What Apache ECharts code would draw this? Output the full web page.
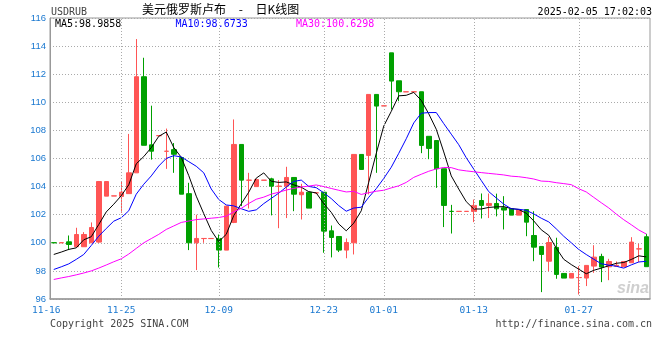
<!DOCTYPE html>
<html>
<head>
<meta charset="utf-8">
<script src="https://cdn.jsdelivr.net/npm/echarts@6/dist/echarts.min.js"></script>
<style>html,body{margin:0;padding:0;background:#fff;}#c{width:660px;height:360px;}</style>
</head>
<body>
<div id="c"></div>
<script>
const dates = ['11-16','11-17','11-18','11-19','11-20','11-21','11-22','11-23','11-24','11-25',
  '11-26','11-27','11-28','11-29','11-30','12-02','12-03','12-04','12-05','12-06','12-07','12-08','12-09',
  '12-10','12-11','12-12','12-13','12-14','12-15','12-16','12-17','12-18','12-19','12-20','12-21','12-22','12-23',
  '12-24','12-25','12-26','12-27','12-28','12-30','12-31','01-01',
  '01-02','01-03','01-04','01-05','01-06','01-07','01-08','01-09','01-10','01-11','01-12','01-13',
  '01-14','01-15','01-16','01-17','01-18','01-19','01-20','01-21','01-22','01-23','01-24','01-25','01-26','01-27',
  '01-28','01-29','01-30','01-31','02-01','02-02','02-03','02-04','02-05'];
const opens = [100.01,100.00,100.07,99.72,99.72,100.00,100.05,103.32,103.33,103.30,
  103.50,104.98,111.82,106.97,107.62,106.51,106.63,106.07,103.50,100.00,
  100.30,100.30,100.31,99.48,101.45,107.00,104.45,104.00,104.45,104.55,
  104.02,104.03,104.65,103.42,103.60,103.55,103.60,100.85,100.45,99.48,
  100.00,106.29,106.22,110.56,109.74,113.52,111.53,110.74,110.74,110.75,
  107.58,107.28,105.27,102.24,102.23,102.23,102.23,103.01,102.66,102.80,
  102.49,102.42,101.97,102.37,100.52,99.74,98.69,99.67,97.82,97.49,
  97.52,97.49,98.34,99.03,98.29,98.33,98.29,98.58,99.56,100.43];
const closes = [100.00,100.01,99.88,100.59,100.59,101.09,104.36,104.36,103.34,103.60,
  104.98,111.82,106.94,106.52,107.63,106.52,106.30,103.46,100.00,100.31,
  100.31,100.31,99.48,102.61,107.00,104.46,104.46,104.50,104.46,104.03,
  104.03,104.65,103.46,103.60,102.47,103.56,100.83,100.38,99.48,100.02,
  106.29,105.22,110.56,109.73,109.75,111.51,110.75,110.75,110.75,106.93,
  106.72,105.27,102.66,102.23,102.24,102.24,102.66,102.66,102.80,102.42,
  102.33,101.97,102.33,101.47,99.69,99.17,100.02,97.75,97.49,97.82,
  97.53,98.39,98.98,98.27,98.67,98.40,98.67,100.05,99.57,98.30];
const lows = [100.00,100.00,99.48,99.72,99.72,100.00,100.00,103.32,103.33,102.13,
  103.50,104.98,106.94,105.92,107.62,105.26,104.98,103.46,99.48,98.06,
  100.00,100.30,98.24,99.48,101.40,102.61,102.44,104.00,104.45,101.95,
  101.04,101.76,102.25,101.66,102.47,103.55,99.29,98.96,99.34,98.90,
  99.17,105.22,103.44,104.98,109.74,109.49,110.08,110.74,110.74,106.38,
  105.95,103.91,101.12,100.66,102.23,102.23,101.47,101.73,101.76,101.88,
  100.95,101.97,101.97,100.47,98.69,96.49,97.98,97.44,97.49,97.49,
  96.32,96.92,97.86,97.20,97.34,98.33,98.29,98.58,98.62,98.30];
const highs = [100.01,100.01,100.52,101.07,100.76,101.45,104.40,104.36,103.34,104.38,
  107.75,114.50,113.17,109.76,107.63,108.13,107.10,106.10,104.27,102.00,
  100.31,100.31,100.59,102.61,108.78,107.00,104.98,104.50,104.46,104.63,
  104.46,105.41,104.65,104.20,103.60,103.56,103.60,101.23,100.45,100.31,
  106.29,106.29,110.56,110.56,109.75,113.52,111.53,110.75,110.75,110.75,
  107.58,107.28,105.27,102.70,102.24,102.24,103.08,103.51,103.51,103.50,
  103.32,102.42,102.33,102.37,102.25,99.74,100.40,100.36,97.82,97.82,
  98.34,98.39,99.83,99.22,98.86,98.67,98.67,100.40,99.93,100.64];
// moving-average values before a full window is available
const ma5Head = [99.17,99.34,99.53,99.64];
const ma10Head = [98.10,98.29,98.50,98.82,99.17,99.81,100.47,101.02,101.54];
const ma30Head = [97.39,97.50,97.60,97.72,97.85,98.00,98.20,98.42,98.65,98.86,
  99.20,99.60,100.00,100.30,100.60,100.95,101.20,101.45,101.55,101.65,
  101.70,101.75,101.80,101.90,102.20,102.45,102.80,103.10,103.25];
const tickLabels = ['11-16','11-25','12-09','12-23','01-01','01-13','01-27'];
const legendTexts = ['MA5:98.9858','MA10:98.6733','MA30:100.6298'];
const yMin = 96, yMax = 116, yStep = 2;

function movingAvg(n, head) {
  return closes.map((c, i) => {
    if (i < n - 1) return head[i];
    let s = 0;
    for (let k = i - n + 1; k <= i; k++) s += closes[k];
    return +(s / n).toFixed(4);
  });
}
const kData = opens.map((o, i) => [o, closes[i], lows[i], highs[i]]);
const ma5 = movingAvg(5, ma5Head);
const ma10 = movingAvg(10, ma10Head);
const ma30 = movingAvg(30, ma30Head);

const blue = '#1a78d0';
const mono = 'DejaVu Sans Mono';
const chart = echarts.init(document.getElementById('c'), null, {renderer: 'canvas'});
chart.setOption({
  animation: false,
  backgroundColor: '#fff',
  grid: {left: 50, right: 10, top: 18, bottom: 61, show: true, borderColor: '#999', borderWidth: 1, backgroundColor: 'transparent'},
  xAxis: {
    type: 'category', data: dates, boundaryGap: true,
    axisLine: {show: true, lineStyle: {color: '#999', width: 1.5}},
    axisTick: {show: false},
    splitLine: {show: false},
    axisLabel: {
      interval: (i, v) => tickLabels.indexOf(v) >= 0,
      color: blue, fontSize: 9.5, fontFamily: mono, margin: 7,
      formatter: (v, i) => i === 0 ? '{f|' + v + '}' : v,
      rich: {f: {color: blue, fontSize: 9.5, fontFamily: mono, padding: [0, 15, 0, 0]}}
    }
  },
  yAxis: {
    type: 'value', min: yMin, max: yMax, interval: yStep, scale: true,
    axisLine: {show: true, lineStyle: {color: '#999'}},
    axisTick: {show: false},
    axisLabel: {color: blue, fontSize: 9.5, fontFamily: 'Liberation Sans', margin: 4},
    splitLine: {show: true, lineStyle: {color: '#aaa', type: [1, 2], width: 1}}
  },
  series: [
    {
      type: 'candlestick', data: kData, barWidth: 5,
      itemStyle: {color: '#ff5555', color0: '#00a000', borderColor: '#ff5555', borderColor0: '#00a000', borderWidth: 1},
      markLine: {
        silent: true, symbol: ['none', 'none'], label: {show: false},
        lineStyle: {color: '#aaa', type: [1, 2], width: 1},
        data: tickLabels.slice(1).map(d => ({xAxis: d}))
      }
    },
    {type: 'line', data: ma5, symbol: 'none', lineStyle: {color: '#000', width: 1}, z: 3},
    {type: 'line', data: ma10, symbol: 'none', lineStyle: {color: '#0000ff', width: 1}, z: 3},
    {type: 'line', data: ma30, symbol: 'none', lineStyle: {color: '#ff00ff', width: 1}, z: 3}
  ],
  graphic: [
    {type: 'text', style: {x: 51, y: 12.5, text: 'USDRUB', fill: '#444', font: '10px ' + mono, textVerticalAlign: 'middle'}},
    {type: 'text', style: {x: 142, y: 9.5, text: '{a|美元俄罗斯卢布 }{b|-}{a| 日K线图}', textVerticalAlign: 'middle',
      rich: {a: {fontSize: 12, fontFamily: 'Noto Sans CJK SC', fill: '#000'}, b: {fontSize: 12, fontFamily: 'Noto Sans CJK SC', fill: '#000', padding: [0, 10, 0, 10]}}}},
    {type: 'text', style: {x: 652, y: 12, text: '2025-02-05 17:02:03', fill: '#000', font: '10px ' + mono, textAlign: 'right', textVerticalAlign: 'middle'}},
    {type: 'text', style: {x: 55, y: 24.5, text: legendTexts[0], fill: '#000', font: '10px ' + mono, textVerticalAlign: 'middle'}},
    {type: 'text', style: {x: 175.5, y: 24.5, text: legendTexts[1], fill: '#0000ff', font: '10px ' + mono, textVerticalAlign: 'middle'}},
    {type: 'text', style: {x: 296, y: 24.5, text: legendTexts[2], fill: '#ff00ff', font: '10px ' + mono, textVerticalAlign: 'middle'}},
    {type: 'text', style: {x: 50, y: 324, text: 'Copyright 2025 SINA.COM', fill: '#444', font: '10px ' + mono, textVerticalAlign: 'middle'}},
    {type: 'text', style: {x: 652, y: 324, text: 'http://finance.sina.com.cn', fill: '#444', font: '10px ' + mono, textAlign: 'right', textVerticalAlign: 'middle'}},
    {type: 'text', style: {x: 633, y: 289, text: 'sina', fill: '#cfcfcf', font: 'italic bold 16px Liberation Sans', textAlign: 'center', textVerticalAlign: 'middle'}}
  ]
});
</script>
</body>
</html>
